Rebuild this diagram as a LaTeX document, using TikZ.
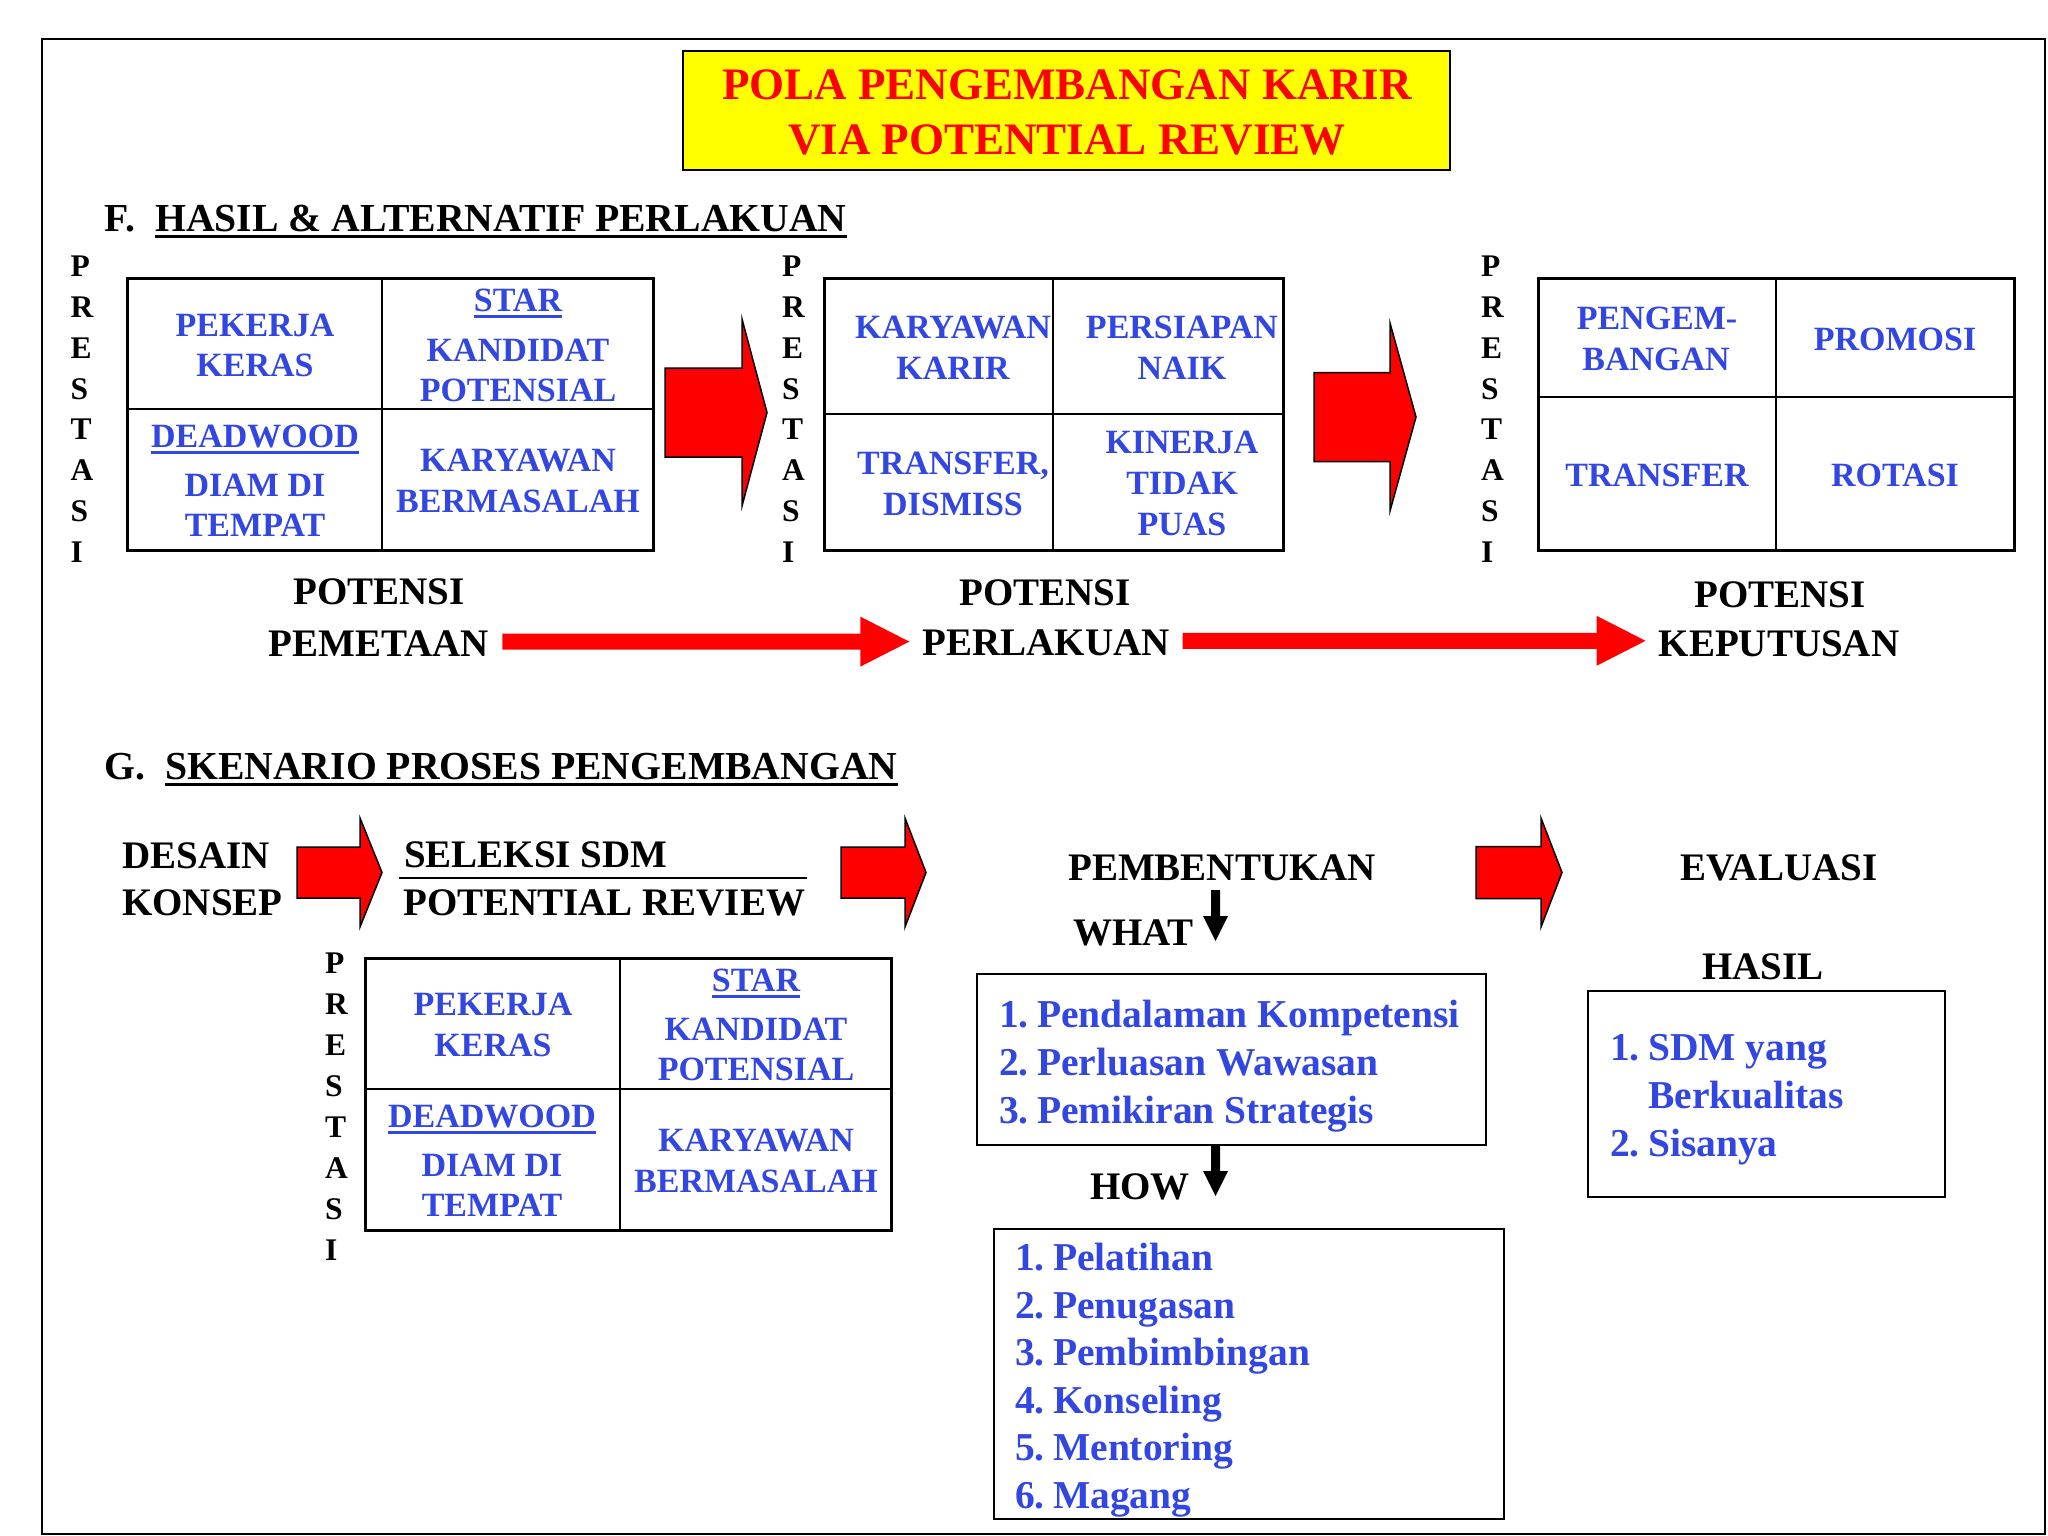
\documentclass[tikz,border=0pt]{standalone}
\usepackage{fontspec}
\setmainfont{Liberation Serif}
\usetikzlibrary{calc}
\definecolor{myblue}{RGB}{50,70,225}
\definecolor{myred}{RGB}{255,0,0}
\definecolor{myyellow}{RGB}{255,255,0}
\newcommand\bkarrow[6]{\filldraw[fill=myred,draw=black,line width=1.5pt,line join=miter] (#1,{#4-#5}) -- (#2,{#4-#5}) -- (#2,{#4-#6}) -- (#3,#4) -- (#2,{#4+#6}) -- (#2,{#4+#5}) -- (#1,{#4+#5}) -- cycle;}
\newcommand\dnarrow[4]{\fill[black] ({#1-4.5},#2) -- ({#1+4.5},#2) -- ({#1+4.5},#3) -- ({#1+12.5},#3) -- (#1,#4) -- ({#1-12.5},#3) -- ({#1-4.5},#3) -- cycle;}
\newcommand\longarrow[2]{\fill[myred] let \p1=(#1), \p2=(#2) in (\x1,\y1+8pt) -- (\x2-49pt,\y1+8pt) -- (\x2-49pt,\y1+25pt) -- (\x2,\y1) -- (\x2-49pt,\y1-25pt) -- (\x2-49pt,\y1-8pt) -- (\x1,\y1-8pt) -- cycle;}
\begin{document}
\begin{tikzpicture}[x=1pt,y=-1pt,
  cell/.style={text=myblue,font=\fontsize{34}{40}\selectfont\bfseries,inner sep=0pt,anchor=base},
  lbl/.style={text=black,font=\fontsize{39}{47}\selectfont\bfseries,inner sep=0pt,anchor=base},
  hdg/.style={text=black,font=\fontsize{39.7}{47}\selectfont\bfseries,inner sep=0pt,anchor=base west},
  lst/.style={text=myblue,font=\fontsize{39.5}{47}\selectfont\bfseries,inner sep=0pt,anchor=base west},
  ttl/.style={text=myred,font=\fontsize{45}{53}\selectfont\bfseries,inner sep=0pt,anchor=base},
  pre/.style={text=black,font=\fontsize{31.5}{38}\selectfont\bfseries,inner sep=0pt,anchor=base west},
  gridline/.style={line width=3pt},
  innerline/.style={line width=2.5pt},
  boxline/.style={line width=2.5pt},
  uline/.style={myblue,line width=3pt},
  hline/.style={black,line width=3.5pt}]
\useasboundingbox (0,0) rectangle (2048,1536);
\fill[white] (0,0) rectangle (2048,1536);
\draw[line width=2pt] (42,39) rectangle (2045,1534);

% title
\filldraw[fill=myyellow,draw=black,line width=2pt] (683,51) rectangle (1450,170);
\node[ttl] (t1) at (1067,100) {POLA PENGEMBANGAN KARIR};
\node[ttl] (t2) at (1067,155) {VIA POTENTIAL REVIEW};

% heading F
\node[hdg] (fF) at (104.5,231.5) {F.};
\node[hdg] (fH) at (155,231.5) {HASIL \& ALTERNATIF PERLAKUAN};
\draw[hline] ([yshift=-5pt]fH.base west) -- ([yshift=-5pt]fH.base east);

% PRESTASI columns
\foreach \L [count=\i] in {P,R,E,S,T,A,S,I}{
  \node[pre] (pa\i) at (70.5,{235.4+40.9*\i}) {\L};
  \node[pre] (pb\i) at (782,{235.4+40.9*\i}) {\L};
  \node[pre] (pc\i) at (1481,{235.4+40.9*\i}) {\L};
  \node[pre] (pd\i) at (325,{932+41*\i}) {\L};
}

% matrix 1
\draw[gridline] (127,278) rectangle (653,550);
\draw[innerline] (382,278) -- (382,550);
\draw[innerline] (127,409) -- (653,409);
\node[cell] (a11) at (255,336) {PEKERJA};
\node[cell] (a12) at (255,376) {KERAS};
\node[cell] (a21) at (518,311) {STAR};
\draw[uline] ([yshift=-5pt]a21.base west) -- ([yshift=-5pt]a21.base east);
\node[cell] (a22) at (518,361) {KANDIDAT};
\node[cell] (a23) at (518,401) {POTENSIAL};
\node[cell] (a31) at (255,447) {DEADWOOD};
\draw[uline] ([yshift=-5pt]a31.base west) -- ([yshift=-5pt]a31.base east);
\node[cell] (a32) at (255,496) {DIAM DI};
\node[cell] (a33) at (255,536) {TEMPAT};
\node[cell] (a41) at (518,471.5) {KARYAWAN};
\node[cell] (a42) at (518,512.5) {BERMASALAH};

% matrix 2
\draw[gridline] (824,278) rectangle (1283,550);
\draw[innerline] (1053,278) -- (1053,550);
\draw[innerline] (824,414) -- (1283,414);
\node[cell] (b11) at (953,338.5) {KARYAWAN};
\node[cell] (b12) at (953,379) {KARIR};
\node[cell] (b21) at (1182,338.5) {PERSIAPAN};
\node[cell] (b22) at (1182,379) {NAIK};
\node[cell] (b31) at (953,474) {TRANSFER,};
\node[cell] (b32) at (953,515) {DISMISS};
\node[cell] (b41) at (1182,453.5) {KINERJA};
\node[cell] (b42) at (1182,494.5) {TIDAK};
\node[cell] (b43) at (1182,535) {PUAS};

% matrix 3
\draw[gridline] (1538,278) rectangle (2014,550);
\draw[innerline] (1776,278) -- (1776,550);
\draw[innerline] (1538,397) -- (2014,397);
\node[cell] (c11) at (1657,329) {PENGEM-};
\node[cell] (c12) at (1656,370.5) {BANGAN};
\node[cell] (c21) at (1895,350) {PROMOSI};
\node[cell] (c31) at (1657,486) {TRANSFER};
\node[cell] (c41) at (1895,486) {ROTASI};

% block arrows F
\bkarrow{665}{742}{767}{412.5}{44.5}{93.5}
\bkarrow{1314}{1390}{1416}{417}{44.5}{94}

% potensi labels
\node[lbl] (p1a) at (379,604.5) {POTENSI};
\node[lbl] (p1b) at (379,656) {PEMETAAN};
\node[lbl] (p2a) at (1045,605) {POTENSI};
\node[lbl] (p2b) at (1046,655) {PERLAKUAN};
\node[lbl] (p3a) at (1780,607) {POTENSI};
\node[lbl] (p3b) at (1779,656) {KEPUTUSAN};
\coordinate (l1s) at ([xshift=13pt,yshift=1.5pt]p1b.east);
\coordinate (l1e) at ([xshift=-13pt,yshift=1.5pt]p2b.west);
\coordinate (l2s) at ([xshift=13pt,yshift=1.5pt]p2b.east);
\coordinate (l2e) at ([xshift=-13pt,yshift=1.5pt]p3b.west);
\longarrow{l1s}{l1e}
\longarrow{l2s}{l2e}

% heading G
\node[hdg] (gG) at (104.5,779.6) {G.};
\node[hdg] (gH) at (165,779.6) {SKENARIO PROSES PENGEMBANGAN};
\draw[hline] ([yshift=-5pt]gH.base west) -- ([yshift=-5pt]gH.base east);

% G row
\node[lbl,anchor=base west] (ds1) at (122,868) {DESAIN};
\node[lbl,anchor=base west] (ds2) at (122,915) {KONSEP};
\node[lbl,anchor=base west] (sel1) at (404,867) {SELEKSI SDM};
\node[lbl,anchor=base west] (sel2) at (403,915) {POTENTIAL REVIEW};
\draw[line width=2.5pt] (399,878) -- (807,878);
\node[lbl] (pemb) at (1222,880) {PEMBENTUKAN};
\node[lbl] (eval) at (1779,880) {EVALUASI};
\node[lbl,anchor=base west] (what) at (1073,945.5) {WHAT};
\node[lbl,anchor=base west] (how) at (1090,1199.5) {HOW};
\node[lbl] (hasil) at (1763,979) {HASIL};

\bkarrow{297}{360}{382}{872.5}{25.5}{54.5}
\bkarrow{841}{905}{926}{872.5}{25.5}{54.5}
\bkarrow{1476}{1541}{1562}{872.5}{26}{54.5}

% matrix G
\draw[gridline] (365,958) rectangle (891,1230);
\draw[innerline] (620,958) -- (620,1230);
\draw[innerline] (365,1089) -- (891,1089);
\node[cell] (d11) at (493,1015) {PEKERJA};
\node[cell] (d12) at (493,1056) {KERAS};
\node[cell] (d21) at (756,991) {STAR};
\draw[uline] ([yshift=-5pt]d21.base west) -- ([yshift=-5pt]d21.base east);
\node[cell] (d22) at (756,1040) {KANDIDAT};
\node[cell] (d23) at (756,1080) {POTENSIAL};
\node[cell] (d31) at (492,1127) {DEADWOOD};
\draw[uline] ([yshift=-5pt]d31.base west) -- ([yshift=-5pt]d31.base east);
\node[cell] (d32) at (492,1176) {DIAM DI};
\node[cell] (d33) at (492,1216) {TEMPAT};
\node[cell] (d41) at (756,1151) {KARYAWAN};
\node[cell] (d42) at (756,1192) {BERMASALAH};

% what / how
\dnarrow{1215.5}{890}{916}{941}
\draw[boxline] (977,974) rectangle (1486,1145);
\node[lst] (w1) at (999,1027) {\makebox[38pt][l]{1.}Pendalaman Kompetensi};
\node[lst] (w2) at (999,1075) {\makebox[38pt][l]{2.}Perluasan Wawasan};
\node[lst] (w3) at (999,1123) {\makebox[38pt][l]{3.}Pemikiran Strategis};
\dnarrow{1215.5}{1145}{1171}{1196}
\draw[boxline] (994,1229) rectangle (1504,1519);
\node[lst] (h1) at (1015,1270) {\makebox[38pt][l]{1.}Pelatihan};
\node[lst] (h2) at (1015,1318) {\makebox[38pt][l]{2.}Penugasan};
\node[lst] (h3) at (1015,1365.5) {\makebox[38pt][l]{3.}Pembimbingan};
\node[lst] (h4) at (1015,1413.5) {\makebox[38pt][l]{4.}Konseling};
\node[lst] (h5) at (1015,1460.5) {\makebox[38pt][l]{5.}Mentoring};
\node[lst] (h6) at (1015,1508.5) {\makebox[38pt][l]{6.}Magang};

% hasil
\draw[boxline] (1588,991) rectangle (1945,1197);
\node[lst] (r1) at (1610,1060.5) {\makebox[38pt][l]{1.}SDM yang};
\node[lst] (r2) at (1648,1108) {Berkualitas};
\node[lst] (r3) at (1610,1156) {\makebox[38pt][l]{2.}Sisanya};
\end{tikzpicture}
\end{document}
